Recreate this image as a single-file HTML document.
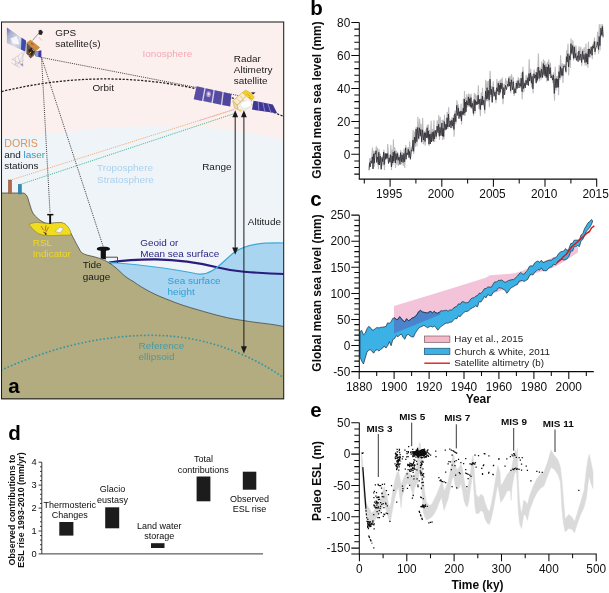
<!DOCTYPE html>
<html lang="en"><head><meta charset="utf-8"><title>Sea level figure</title>
<style>
html,body{margin:0;padding:0;background:#fff;}
body{width:609px;height:593px;overflow:hidden;}
svg{display:block;font-family:"Liberation Sans", sans-serif;}
.t{font-size:9.95px;fill:#1a1a1a;}
.tk{font-size:11.85px;fill:#101010;}
.bl{font-size:11.95px;font-weight:bold;fill:#0c0c0c;}
.pl{font-size:20.5px;font-weight:bold;fill:#000;}
.d{font-size:9px;fill:#0c0c0c;}
.ax{stroke:#0a0a0a;stroke-width:1.05;fill:none;}
</style></head><body>
<svg width="609" height="593" viewBox="0 0 609 593">
<rect width="609" height="593" fill="#fff"/>
<g id="panel-a">
<defs><clipPath id="ca"><rect x="1.5" y="22" width="282.2" height="376.9"/></clipPath>
<linearGradient id="gp" x1="0" y1="0" x2="1" y2="1"><stop offset="0" stop-color="#5563b8"/><stop offset="0.2" stop-color="#a9adcc"/><stop offset="0.55" stop-color="#dcdde9"/><stop offset="1" stop-color="#9a9fc4"/></linearGradient>
</defs>
<g clip-path="url(#ca)">
<rect x="1" y="21" width="284" height="378" fill="#fcf0ee"/>
<path d="M1,137.2 C30,135.8 55,133.3 79,130.5 C105,127.6 125,126.6 150,126.3 C185,125.5 215,127.5 248,133 C262,135.5 272,137.6 285,139.9 L285,399 L1,399 Z" fill="#eff4f8"/>
<path d="M108.8,262.5 C125,263.2 170,268 198,274 C212,276 222,262 234,252.5 C246,244 262,242.5 285,243 L285,330 L108.8,330 Z" fill="#a9d5f0"/>
<path d="M1,193 L23,193 C25.5,193.3 27,195.5 27.8,198 C29,202 30.2,206 31.4,209.6 C32.6,213 34,214.8 35.5,216.2 C37.5,218.2 39.5,220 41.3,221.1 C43,222.1 44.5,222.8 46.2,223.2 L48.5,223.4 L60,222.6 C64,222.8 66.5,225 68,228 C71,233 75,241.5 79.8,250 C81,253 84,254.6 90,255.8 C97,257.2 103,259.2 108.8,262.5 C114,265.8 119,270.6 123.6,275 C126.5,277.6 129.5,279.4 132.8,281.2 C145,290 156,295 165.7,298.8 C178,304 188,307 198.5,310 C212,314 222,316.6 231,318.5 C245,321 255,322.3 264,323.4 C272,324.3 278,325.3 285,326.8 L285,399 L1,399 Z" fill="#b2ac80" stroke="#3a3a32" stroke-width="0.7"/>
<path d="M29.2,224.4 C32,223 35,222.5 37.2,222.4 C41,222.6 45,223.6 48.7,223.6 C53,223.4 57,222.4 60.2,222.6 C63,222.8 65,223.6 66,224.7 C68.5,227 70,229.5 70.6,231.6 C71,233 71,234.4 70.6,235 C67,235.3 64,235.2 60.2,235.2 C56,235.6 52,235.8 48.7,235.6 C45,235.4 42,235 39.5,234 C36.5,232.6 34,230.5 32.6,228.7 C31,227 30,225.6 29.2,224.4 Z" fill="#f2dc1e" stroke="#7a7030" stroke-width="0.5"/>
<path d="M41,226 L43.5,230 M46,225.5 L45,231 M48.5,227 L46,232 M43,232 L47,233.5" stroke="#b07a28" stroke-width="1" fill="none"/>
<path d="M44.5,232 L47,234.6 L45,234.8 Z" fill="#222"/>
<path d="M55,231.5 L60,227 L63.5,228.4 L60.5,233 Z" fill="#f4f4ee" stroke="#9a9a90" stroke-width="0.5"/>
<path d="M108.8,262.5 C122,260.6 142,259.3 156,259.4 C175,259.6 198,262.5 218,267.5 C228,270 236,271.2 244,271.8 C258,272.8 270,273.6 285,274" fill="none" stroke="#2a1c7c" stroke-width="2.1"/>
<path d="M108.8,262.5 C125,263.2 170,268 198,274 C212,276 222,262 234,252.5 C246,244 262,242.5 285,243" fill="none" stroke="#3aa9d8" stroke-width="1.2"/>
<path d="M1.5,370 C50,348 100,335.3 152,335.3 C200,335.3 245,351 285,378.5" fill="none" stroke="#3a95a3" stroke-width="1.9" stroke-linecap="round" stroke-dasharray="0.01 3.7"/>
<path d="M1.5,91.6 Q143,57 285,117" fill="none" stroke="#222" stroke-width="1.3" stroke-dasharray="2.2 1.5"/>
<g fill="none" stroke="#303030" stroke-width="0.95" stroke-dasharray="0.95 1">
<path d="M41.5,57.5 L238,95.5"/>
<path d="M41.5,57.5 L50,212.5"/>
<path d="M41.5,57.5 L103.5,247.5"/>
</g>
<path d="M10,180.3 L234,109.5" fill="none" stroke="#eda468" stroke-width="0.95" stroke-dasharray="1 1"/>
<path d="M200,120.3 L234,109.5" fill="none" stroke="#e6a0cc" stroke-width="0.95" stroke-dasharray="1 1"/>
<path d="M19.8,184.6 L236,113" fill="none" stroke="#34ae8e" stroke-width="0.95" stroke-dasharray="1 1"/>
<rect x="8.3" y="180" width="3.4" height="13.2" fill="#b5694a" stroke="#8a4a32" stroke-width="0.4"/>
<rect x="18.2" y="184.4" width="3.3" height="9.6" fill="#2a8db8" stroke="#1e6a8a" stroke-width="0.4"/>
<rect x="47.2" y="213.9" width="6.2" height="1.5" fill="#111"/>
<rect x="49.2" y="214.5" width="1.9" height="9.3" fill="#111"/>
<path d="M105.5,257.2 L117.5,257.2 L117.5,263" fill="none" stroke="#383838" stroke-width="0.9"/>
<path d="M96.8,249 C96.8,247.4 99,246.8 103.4,246.8 C107.8,246.8 110,247.4 110,249 C110,250.2 108,250.6 105.9,250.8 L105.9,259.6 L100.7,258.6 L100.7,250.8 C98.6,250.6 96.8,250.2 96.8,249 Z" fill="#111"/>
<g stroke="#1a1a1a" stroke-width="1" fill="#1a1a1a">
<path d="M235.2,114 L235.2,251" fill="none"/>
<path d="M243.9,114 L243.9,350" fill="none"/>
<path d="M235.2,110.2 L232.3,117.2 L238.1,117.2 Z" stroke="none"/>
<path d="M243.9,110.2 L241,117.2 L246.8,117.2 Z" stroke="none"/>
<path d="M235.2,254.8 L232.2,247.6 L238.2,247.6 Z" stroke="none"/>
<path d="M243.9,353.4 L240.9,346.2 L246.9,346.2 Z" stroke="none"/>
</g>
<path d="M196.6,86.2 L231.4,94 L230.2,106.6 L193.7,99.2 Z" fill="#d9d0e6"/>
<path d="M196.6,86.2 L204.4,88 L201.9,100.9 L193.7,99.2 Z" fill="#574ea3"/>
<path d="M205.7,88.2 L213.5,90 L211.4,102.8 L203.3,101.1 Z" fill="#5a50a6"/>
<path d="M214.8,90.3 L222.5,92 L220.9,104.7 L212.8,103.1 Z" fill="#544aa2"/>
<path d="M223.8,92.3 L231.4,94 L230.2,106.6 L222.2,105 Z" fill="#4e449e"/>
<ellipse cx="208.6" cy="94.3" rx="2.2" ry="3" fill="#c9a8d8" opacity="0.85"/>
<ellipse cx="208.6" cy="94" rx="1" ry="1.3" fill="#f3e4f2"/>
<path d="M253.5,100.7 L272.8,104.4 L277.2,113.2 L252,109.6 Z" fill="#3f3795"/>
<path d="M258.2,101.6 L258.8,110.6 M262.9,102.5 L264.8,111.5 M267.7,103.4 L270.9,112.4" stroke="#9f97d6" stroke-width="0.8" fill="none"/>
<path d="M237.3,105.1 L242.1,100.8 L251.7,101.3 L250.1,106.7 L244.2,110.6 L237.8,109.5 Z" fill="#eceee8" stroke="#c9c6b4" stroke-width="0.4"/>
<ellipse cx="246.4" cy="104.3" rx="5.4" ry="3.1" transform="rotate(-14 246.4 104.3)" fill="#ffffff"/>
<path d="M233,100.8 L237.3,105.1 L237.8,109.5 L234.6,108.3 Z" fill="#e4dcc0" stroke="#d9a330" stroke-width="0.6"/>
<path d="M233,100.8 L242.6,92.3 L246.3,96 L237.3,105.1 Z" fill="#f4ecd2" stroke="#dba52e" stroke-width="0.7"/>
<path d="M236.2,98 L240.6,102 M239.2,95.2 L243.6,99" stroke="#e0ad3a" stroke-width="0.5" fill="none"/>
<path d="M242.6,92.3 L245.8,90.1 L251.1,93.3 L254.3,97.1 L251.7,100.6 L246.3,96 Z" fill="#f2d224" stroke="#d9a822" stroke-width="0.5"/>
<path d="M247,93.6 L250.4,96.6 M248.6,97.6 L251.4,98.4" stroke="#dc9a28" stroke-width="0.9" fill="none"/>
<path d="M251.1,92.3 L255.6,92.6 L253,94.6 Z" fill="#1c1c1c"/>
<path d="M232.6,102 L234,100.2 M238.8,110.4 L241.4,111.2" stroke="#f0d224" stroke-width="1.1" fill="none"/>
<path d="M6.9,27.4 L26.1,40.7 L25.2,51.6 L6.9,43.2 Z" fill="url(#gp)"/>
<path d="M10.5,38.5 L16.5,36 L19.5,44.5 L12.5,43.5 Z" fill="#fbfbff" opacity="0.85"/>
<path d="M21.5,37.6 L26.1,40.7 L25.2,51.6 L21,49.5 Z" fill="#3c4bb2"/>
<path d="M26.6,42.6 L30.6,39.7 L40,47.6 L35.6,51.6 Z" fill="#c98f3a"/>
<path d="M26.6,42.6 L35.6,51.6 L34.4,55 L30.6,58.6 L26.4,53.6 Z" fill="#6d5148"/>
<path d="M28,50 L31.5,47.5 L34.5,51 L31.5,56 Z" fill="#2f2620"/>
<path d="M29.5,53.5 L31.2,52 M32.4,49.4 L33.8,50.8 M27.8,55 L29,56" stroke="#e2c62e" stroke-width="1"/>
<path d="M35.6,51.6 L41.4,50.2 L41.4,57.8 L35.2,56 Z" fill="#3a3a9e"/>
<path d="M35.6,51.6 L38.5,50.9 L38.2,56.9 L35.2,56 Z" fill="#8f98c8"/>
<path d="M31,43.2 L33.2,44.4" stroke="#d23a3a" stroke-width="1.1"/>
<path d="M32.5,40.5 L39,32.9" stroke="#6a6a72" stroke-width="0.7" fill="none"/>
<path d="M38.6,30.4 L41,29.8 L43,32 L41.6,35 L38.8,34.4 Z" fill="#26222a"/>
<path d="M38,28.2 L40,29.6" stroke="#e8e8f0" stroke-width="1"/>
<path d="M39,37.3 L41.9,40.7" stroke="#e2a25a" stroke-width="0.6"/>
<g stroke="#b4b4c2" stroke-width="0.5" fill="none"><path d="M26.5,50 L11.5,60 M25,52 L17,66 M23,53 L22.6,67 M12,59 L24,66 M14,64.5 L23.5,60.5 M18,56 L21,66.5 M11,62.5 L20,68 M15,58 L16,66"/></g>
<circle cx="22" cy="64.6" r="1" fill="#7f86b8"/>
</g>
<rect x="1.5" y="22" width="282.2" height="376.9" fill="none" stroke="#1e1e1e" stroke-width="1.05"/>
<text x="55.2" y="36.3" class="t">GPS</text>
<text x="55.2" y="47.1" class="t">satellite(s)</text>
<text x="142.5" y="56.6" class="t" style="fill:#f3a9b6">Ionosphere</text>
<text x="92.4" y="91.2" class="t">Orbit</text>
<text x="233.8" y="61.7" class="t">Radar</text>
<text x="233.8" y="73.2" class="t">Altimetry</text>
<text x="233.8" y="84.4" class="t">satellite</text>
<text x="4.3" y="146.9" class="t" style="fill:#d9955a;font-size:10.6px">DORIS</text>
<text x="4.2" y="157.9" class="t">and <tspan style="fill:#2b8fcf">la</tspan><tspan style="fill:#2e9fb0">s</tspan><tspan style="fill:#38a88a">er</tspan></text>
<text x="4.2" y="169" class="t">stations</text>
<text x="97" y="171" class="t" style="fill:#a9d1ef">Troposphere</text>
<text x="97" y="183.1" class="t" style="fill:#a9d1ef">Stratosphere</text>
<text x="202.2" y="169.7" class="t">Range</text>
<text x="247.8" y="225" class="t">Altitude</text>
<text x="32.8" y="246.3" class="t" style="fill:#f0d822">RSL</text>
<text x="32.8" y="257.2" class="t" style="fill:#f0d822">Indicator</text>
<text x="82.7" y="268.4" class="t">Tide</text>
<text x="82.7" y="279.6" class="t">gauge</text>
<text x="140.2" y="246" class="t" style="fill:#2f2585">Geoid or</text>
<text x="140.2" y="257" class="t" style="fill:#2f2585">Mean sea surface</text>
<text x="167.6" y="283.6" class="t" style="fill:#2f9fd4">Sea surface</text>
<text x="167.6" y="295" class="t" style="fill:#2f9fd4">height</text>
<text x="138.5" y="348.7" class="t" style="fill:#4a9aa2">Reference</text>
<text x="138.5" y="359.6" class="t" style="fill:#4a9aa2">ellipsoid</text>
<text x="8.2" y="393.3" class="pl">a</text>
</g>
<g id="panel-b">
<text x="310.3" y="14.6" class="pl">b</text>
<path d="M369.1,167.9 L369.8,158.4 L370.4,161.8 L371.2,158.8 L371.7,156.9 L372.5,147.8 L373.2,167.8 L373.7,151 L374.5,166.1 L375,151.5 L375.7,153.1 L376.3,146.6 L376.8,158.7 L377.5,148.4 L378.4,168.7 L379,149.5 L379.6,162.1 L380.4,154.2 L381.4,168.2 L382.2,156.8 L382.9,165.3 L383.9,150 L384.4,169.7 L385.3,153.7 L386,153.6 L386.5,157 L387.1,158.5 L387.7,144.3 L388.7,157.2 L389.2,155.6 L390,162.2 L390.9,145.2 L391.5,169.5 L392.3,150.1 L392.8,165 L393.4,139.9 L394,162.5 L394.8,147.6 L395.5,167.5 L396.2,150.8 L397,164.2 L397.7,152.2 L398.4,165.4 L399.3,155.5 L400.1,160.1 L400.7,150.3 L401.5,163.6 L402.3,152.3 L403.2,165.4 L404.1,148.9 L404.7,167.4 L405.7,145.4 L406.3,155.3 L407,147.7 L407.9,154.7 L408.4,147.6 L409.2,154.7 L409.7,141.9 L410.5,157.5 L411.4,147.3 L412.2,151.1 L413.1,130.2 L413.8,153.7 L414.6,131.8 L415.4,146.3 L416.2,127.2 L417,146 L417.9,117.2 L418.9,139.4 L419.6,119.2 L420.4,136.3 L420.9,124.4 L421.8,142.9 L422.6,118.3 L423.6,143.8 L424.5,131.5 L425.2,145.2 L425.9,129.8 L426.7,135 L427.2,125.1 L427.9,139 L428.5,124.8 L429.1,145.6 L429.6,130.2 L430.5,139.8 L431.1,121.1 L431.7,138.3 L432.4,129.4 L433.3,141.3 L433.9,120.5 L434.6,141.7 L435.4,130.7 L436.3,138.3 L437.2,120.5 L438.1,134 L438.8,115.3 L439.5,139.5 L440.2,117.3 L441.1,134.2 L442.1,120.3 L442.7,139.6 L443.3,120.2 L443.9,139 L444.5,115 L445.2,130.5 L446,126 L446.7,128.6 L447.2,112.3 L447.9,128.6 L448.6,107.6 L449.3,122 L450.3,119.9 L451.2,125.6 L451.9,117.7 L452.7,127.5 L453.6,115.4 L454.1,136.3 L455,111 L455.9,123.6 L456.9,100.6 L457.8,109 L458.5,104.9 L459.2,116 L459.7,111.3 L460.5,118.3 L461.1,104 L461.6,124 L462.2,111.9 L462.8,114 L463.4,99 L464,115.3 L464.5,91.3 L465,115.4 L465.6,97.9 L466.3,107.3 L466.8,94.5 L467.7,106.6 L468.5,93.9 L469.1,106 L469.7,94.9 L470.4,107.6 L471.1,94 L471.7,108.4 L472.6,101.3 L473.6,115.5 L474.3,93.3 L475.1,113 L475.6,94.4 L476.1,105 L476.8,96 L477.5,104 L478.4,85.7 L478.9,108.3 L479.5,99.5 L480.4,115.7 L481.2,92.9 L481.8,104.6 L482.5,88.2 L483.1,105.1 L483.8,97.5 L484.8,113.2 L485.7,80.2 L486.6,101 L487.2,81.5 L487.9,100.8 L488.5,81.2 L489.4,106.7 L490.1,71.2 L491,96.6 L491.7,86.6 L492.3,102.2 L493.2,81.6 L494.2,93.8 L495.1,90.4 L496,102.8 L496.9,79.3 L497.8,93.8 L498.4,81.5 L499.2,91.5 L499.9,80.6 L500.4,93.2 L500.9,79.6 L501.5,88.9 L502.2,77.9 L503,103.8 L504,84.1 L504.7,90.2 L505.7,78.6 L506.7,84 L507.6,81.2 L508.3,82.8 L508.9,76.8 L509.6,85.8 L510.2,76.1 L510.8,92.7 L511.6,74.5 L512.5,84 L513.4,77.5 L514.2,95.5 L515,87.7 L515.9,89.5 L516.4,81 L517.3,88.7 L518.2,77.5 L519.1,82.9 L520,79.2 L520.7,87.7 L521.3,73.1 L522.2,99 L522.9,67 L523.8,92 L524.8,81.7 L525.5,85.5 L526.2,75.3 L527.1,82.6 L528,75.9 L528.6,79.7 L529.2,59.5 L529.7,81 L530.7,69.2 L531.6,87 L532.2,74.4 L533.1,93 L534.1,69.8 L534.9,73.5 L535.6,72.4 L536.3,83.1 L536.9,68.9 L537.4,81.4 L538.4,53.8 L539.2,80.8 L540,67.5 L541,79.7 L541.7,62 L542.6,76.7 L543.5,59.7 L544.1,75.7 L544.7,61.2 L545.4,77.7 L546,64 L546.8,81.2 L547.4,62.4 L548.1,80.5 L548.7,59.9 L549.7,75.3 L550.3,63 L551.1,73.9 L551.9,74.6 L552.8,82.5 L553.5,72.9 L554.5,100.1 L555.2,67 L556,90.1 L556.8,76.3 L557.3,80.6 L558,76 L558.6,94.6 L559.1,65.4 L560,79.5 L560.6,55.7 L561.3,76.8 L562.2,63.6 L563,82.5 L563.6,64.5 L564.4,65.7 L565.2,64.4 L566,73 L566.6,50.7 L567.4,55.4 L568,44.1 L568.6,74.9 L569.5,54.7 L570.3,67.3 L571.1,38.7 L571.9,54.6 L572.9,40.5 L573.6,59.9 L574.4,46.2 L575.2,59.2 L575.9,45.6 L576.8,54.2 L577.5,52.5 L578.3,58.1 L579,46.5 L580,53.8 L580.8,47 L581.8,65.5 L582.7,49.3 L583.4,54.9 L584.2,47.6 L585.1,65.1 L586,44.1 L586.6,65 L587.2,52.3 L587.9,67.3 L588.4,42 L589.1,57.8 L589.6,51.3 L590.4,56.9 L591.3,48.9 L592.3,58.6 L592.8,44.4 L593.7,48.8 L594.5,37.8 L595.1,54.3 L596,41.8 L597,44.9 L597.6,32 L598.6,53.2 L599.3,24.6 L600.1,49.9 L601,24.5 L602,35.8 L602.5,24.5 L603.3,35.7" fill="none" stroke="#bcbcbe" stroke-width="1.15" stroke-linejoin="round"/>
<path d="M369,170.2 L369.7,162.7 L370.2,166.9 L371.1,160.8 L371.6,163.2 L372.4,156.8 L373,169 L373.6,153.9 L374.3,163.2 L374.9,153.3 L375.6,154.1 L376.1,150.7 L376.6,162.4 L377.4,156.9 L378.3,164.5 L378.8,152.3 L379.4,165 L380.3,156.1 L381.2,169.4 L382,157.6 L382.7,161.6 L383.7,152.1 L384.2,164.5 L385.2,153.4 L385.8,159.3 L386.4,153.7 L386.9,158.2 L387.6,153.6 L388.5,163.5 L389.1,157.8 L389.9,162.1 L390.7,154.6 L391.4,166.9 L392.2,156 L392.7,163.1 L393.2,152.2 L393.8,161.2 L394.7,151.2 L395.4,163 L396,153.6 L396.8,159.6 L397.6,153.4 L398.2,160.4 L399.1,157 L400,164.5 L400.6,152.7 L401.4,161.8 L402.1,154.8 L403.1,162.5 L403.9,153.4 L404.6,161.7 L405.6,147.9 L406.1,159.3 L406.8,152.9 L407.7,154.6 L408.3,149.3 L409,157.6 L409.5,151.4 L410.4,159.3 L411.3,150 L412.1,150.7 L413,140 L413.6,151.3 L414.5,137.1 L415.3,143.2 L416.1,128.9 L416.8,141.6 L417.7,127.4 L418.7,138.5 L419.4,127.8 L420.3,135.8 L420.8,129.5 L421.7,141.9 L422.5,129.8 L423.5,140 L424.4,132.7 L425,141.5 L425.7,132.7 L426.6,137.8 L427.1,127.7 L427.8,137.7 L428.4,130.9 L428.9,144.2 L429.5,134.4 L430.3,144 L430.9,133.8 L431.5,142 L432.2,132.2 L433.2,141.2 L433.7,131.5 L434.4,139 L435.2,130.2 L436.2,136.5 L437.1,126.1 L438,132.5 L438.6,124.3 L439.3,136.3 L440,127.3 L441,135.7 L441.9,123.1 L442.5,136.1 L443.1,128.3 L443.7,136.6 L444.3,121.6 L445.1,129.8 L445.9,124 L446.5,129.3 L447,117.8 L447.7,127.1 L448.4,114 L449.2,127 L450.2,121 L451,128.1 L451.8,120.2 L452.6,125.9 L453.4,117.9 L453.9,129.5 L454.9,113.7 L455.8,121.7 L456.7,105.4 L457.6,115.5 L458.3,107.9 L459,118.7 L459.6,111.8 L460.4,116.4 L460.9,110.9 L461.4,120.9 L462,111.5 L462.6,114.6 L463.3,108.1 L463.8,114.5 L464.3,99 L464.9,112.9 L465.5,102 L466.1,111.8 L466.6,100.7 L467.6,104.9 L468.4,96.9 L469,105.4 L469.6,98.7 L470.3,106.5 L470.9,97.6 L471.5,107.4 L472.4,103.3 L473.4,113.6 L474.2,99.4 L474.9,111 L475.4,100.5 L476,104.8 L476.7,101.8 L477.3,104.5 L478.2,95.2 L478.8,103.9 L479.3,99.3 L480.3,109.6 L481,98.8 L481.6,105.1 L482.4,96 L482.9,104.8 L483.7,100.2 L484.7,109.7 L485.6,91.1 L486.4,99.3 L487.1,87.7 L487.8,98.7 L488.3,90.4 L489.2,100.1 L490,79.2 L490.9,94.7 L491.5,89.4 L492.2,102.3 L493.1,87 L494.1,96.3 L495,91.9 L495.9,99.8 L496.8,87.7 L497.7,91.3 L498.3,83.1 L499,95.1 L499.7,84.9 L500.2,92.3 L500.7,82.9 L501.4,88.7 L502,83.2 L502.9,98.5 L503.8,87.5 L504.6,94.8 L505.5,85.2 L506.5,89.6 L507.5,83.9 L508.2,86.5 L508.8,78.4 L509.4,86 L510,82.2 L510.6,90.7 L511.4,79.8 L512.4,89.9 L513.3,81.6 L514,93.5 L514.9,88.7 L515.8,93.1 L516.3,83 L517.1,88.4 L518.1,80.6 L519,88 L519.8,83.2 L520.6,86.3 L521.2,78.1 L522.1,91.7 L522.7,71.8 L523.6,88.6 L524.6,83.3 L525.3,87.9 L526,80.2 L527,84.9 L527.9,77.8 L528.4,85.6 L529,73.5 L529.6,81 L530.5,72.9 L531.4,83.3 L532,76.3 L532.9,88.8 L533.9,73.7 L534.7,78.2 L535.4,74.8 L536.2,82.9 L536.8,72.3 L537.3,80.3 L538.2,67 L539.1,78.5 L539.8,70.6 L540.8,77.5 L541.5,69.2 L542.5,77.7 L543.4,63.6 L544,74.5 L544.6,65.3 L545.2,76.2 L545.9,66.8 L546.7,77.5 L547.3,67 L548,80.5 L548.6,64.6 L549.5,73.7 L550.2,67.6 L550.9,78 L551.7,75.7 L552.7,80.1 L553.4,74.9 L554.3,93.5 L555.1,78.7 L555.9,87.7 L556.6,78.5 L557.1,87.5 L557.8,79 L558.4,87.3 L558.9,71.6 L559.8,77.9 L560.4,66.6 L561.2,75.4 L562,68.4 L562.8,75.7 L563.5,66.3 L564.2,66.6 L565,65.8 L565.9,71.6 L566.4,56.7 L567.2,62.1 L567.9,53.7 L568.5,67 L569.4,55.9 L570.1,59.9 L570.9,43.7 L571.8,53.5 L572.7,45.5 L573.5,58.4 L574.3,47 L575,57.9 L575.8,53.5 L576.6,60.4 L577.4,55.6 L578.1,61.7 L578.9,51 L579.8,60.3 L580.7,54.1 L581.6,62.4 L582.6,51.1 L583.2,59.6 L584,54.5 L585,62.7 L585.9,53.4 L586.5,62.1 L587,54.1 L587.7,64 L588.3,49 L588.9,56.8 L589.4,48.9 L590.3,53.8 L591.2,46.7 L592.1,55.2 L592.7,45.9 L593.5,48.1 L594.4,41.5 L594.9,51.8 L595.9,47.6 L596.9,45.7 L597.5,41.9 L598.5,49.4 L599.2,36.5 L599.9,45.7 L600.9,28.2 L601.8,35.3 L602.4,26.5 L603.1,37.4" fill="none" stroke="#2c2a30" stroke-width="0.8" stroke-linejoin="round"/>
<path class="ax" d="M359.3,22.5 L359.3,179.1 M359.3,154.3 h-8 M359.3,121.4 h-8 M359.3,88.4 h-8 M359.3,55.5 h-8 M359.3,22.5 h-8 M359.3,174.1 h-5 M359.3,167.5 h-5 M359.3,160.9 h-5 M359.3,147.7 h-5 M359.3,141.1 h-5 M359.3,134.5 h-5 M359.3,127.9 h-5 M359.3,114.8 h-5 M359.3,108.2 h-5 M359.3,101.6 h-5 M359.3,95 h-5 M359.3,81.8 h-5 M359.3,75.2 h-5 M359.3,68.6 h-5 M359.3,62 h-5 M359.3,48.9 h-5 M359.3,42.3 h-5 M359.3,35.7 h-5 M359.3,29.1 h-5"/>
<path class="ax" d="M358.8,179.1 L597.2,179.1 M390.1,179.1 v7.6 M441.8,179.1 v7.6 M493.4,179.1 v7.6 M545,179.1 v7.6 M596.7,179.1 v7.6 M364.3,179.1 v4.5 M415.9,179.1 v4.5 M467.6,179.1 v4.5 M519.2,179.1 v4.5 M570.9,179.1 v4.5"/>
<text x="350.3" y="158.5" class="tk" text-anchor="end">0</text>
<text x="350.3" y="125.6" class="tk" text-anchor="end">20</text>
<text x="350.3" y="92.6" class="tk" text-anchor="end">40</text>
<text x="350.3" y="59.7" class="tk" text-anchor="end">60</text>
<text x="350.3" y="26.7" class="tk" text-anchor="end">80</text>
<text x="389.2" y="198.1" class="tk" text-anchor="middle">1995</text>
<text x="440.9" y="198.1" class="tk" text-anchor="middle">2000</text>
<text x="492.5" y="198.1" class="tk" text-anchor="middle">2005</text>
<text x="544.1" y="198.1" class="tk" text-anchor="middle">2010</text>
<text x="608.8" y="198.1" class="tk" text-anchor="end">2015</text>
<text class="bl" text-anchor="middle" transform="translate(320.8,100) rotate(-90)">Global mean sea level (mm)</text>
</g>
<g id="panel-c">
<text x="310.2" y="206.1" class="pl">c</text>
<path d="M394,306 L440,292 L485,278 L490,275.2 L500,274.6 L514.7,273.3 L522,271 L530,267.5 L540,262.5 L552,258 L562,253.5 L570,250 L578,246.5 L578,252.5 L568,259 L560,264 L554,267.3 L545,270.5 L535.7,273 L525,279.5 L515,286 L500,291 L480,298.5 L460,306.3 L440.4,314.4 L394,333.6 Z" fill="#f3c3da"/>
<path d="M360,331.5 L361.7,330.4 L363.5,334.8 L365.2,333.3 L366.9,328.9 L368.6,326.4 L370.4,327.5 L372.1,330.1 L373.8,329.8 L375.5,328.4 L377.3,327.4 L379,328 L380.7,327.3 L382.5,327.2 L384.2,326.8 L385.9,326.5 L387.6,322.9 L389.4,323.2 L391.1,321.8 L392.8,318.3 L394.6,317.9 L396.3,319.5 L398,319.3 L399.7,316.7 L401.5,318.8 L403.2,321 L404.9,321.7 L406.6,318.7 L408.4,320.8 L410.1,319.9 L411.8,318.2 L413.6,317.6 L415.3,316.6 L417,314.5 L418.7,311.7 L420.5,310.4 L422.2,311.9 L423.9,312.3 L425.6,312.7 L427.4,313.1 L429.1,311.9 L430.8,311.6 L432.6,312.9 L434.3,311.3 L436,313 L437.7,313.2 L439.5,312.2 L441.2,310.6 L442.9,311 L444.6,310.4 L446.4,310.3 L448.1,311.2 L449.8,309.9 L451.6,310.1 L453.3,308.2 L455,307.1 L456.7,306.4 L458.5,303.8 L460.2,304.3 L461.9,301.8 L463.7,301.8 L465.4,302.7 L467.1,302.8 L468.8,302.1 L470.6,299.2 L472.3,297.9 L474,297.9 L475.7,296.1 L477.5,295.6 L479.2,293.1 L480.9,293.4 L482.7,291.3 L484.4,288.7 L486.1,288.5 L487.8,287 L489.6,287 L491.3,287.3 L493,284.3 L494.7,281.9 L496.5,282.1 L498.2,280.4 L499.9,280.4 L501.7,280 L503.4,281.3 L505.1,282.4 L506.8,281.6 L508.6,280.4 L510.3,280.1 L512,279.6 L513.7,279.6 L515.5,277.8 L517.2,276.4 L518.9,274.1 L520.7,272.5 L522.4,273.9 L524.1,274.4 L525.8,271.9 L527.6,270.2 L529.3,266.4 L531,265.8 L532.8,266.1 L534.5,263.1 L536.2,261.8 L537.9,261 L539.7,262.3 L541.4,260.2 L543.1,262.6 L544.8,262 L546.6,261.1 L548.3,260.6 L550,260.2 L551.8,260.2 L553.5,258 L555.2,258.1 L556.9,256.4 L558.7,253.6 L560.4,251.9 L562.1,251.5 L563.8,251.1 L565.6,248.6 L567.3,250.6 L569,248.4 L570.8,243.5 L572.5,243.3 L574.2,240.2 L575.9,240.2 L577.7,240.1 L579.4,239.8 L581.1,234.9 L582.8,233.7 L584.6,228.6 L586.3,225.8 L588,222.9 L589.8,221.4 L591.5,219.5 L592.7,221 L592.7,221 L591.5,224.3 L589.8,227.3 L588,229.5 L586.3,231.3 L584.6,235.4 L582.8,239.5 L581.1,240.6 L579.4,246.6 L577.7,245.5 L575.9,246.7 L574.2,246.8 L572.5,251.1 L570.8,251 L569,256.2 L567.3,258.6 L565.6,259.6 L563.8,260 L562.1,259.5 L560.4,259.5 L558.7,260.5 L556.9,263.6 L555.2,264.8 L553.5,264.1 L551.8,266.8 L550,267.3 L548.3,268.6 L546.6,270.8 L544.8,270.7 L543.1,270.7 L541.4,267.8 L539.7,270.1 L537.9,269.6 L536.2,271.3 L534.5,272.4 L532.8,275.1 L531,273.8 L529.3,276 L527.6,279.5 L525.8,280.5 L524.1,281.5 L522.4,280.6 L520.7,280.8 L518.9,281.5 L517.2,284.7 L515.5,285.2 L513.7,286.5 L512,287.3 L510.3,288.6 L508.6,291.2 L506.8,293.3 L505.1,290.3 L503.4,289.3 L501.7,288.3 L499.9,287.9 L498.2,288 L496.5,290.8 L494.7,291 L493,292.7 L491.3,295.7 L489.6,295.5 L487.8,294.5 L486.1,297.7 L484.4,296.5 L482.7,299.6 L480.9,302.1 L479.2,301.6 L477.5,306.8 L475.7,305.9 L474,307.1 L472.3,307.8 L470.6,308.9 L468.8,310.6 L467.1,311.4 L465.4,311.5 L463.7,312.7 L461.9,314.4 L460.2,316.7 L458.5,315.8 L456.7,318.9 L455,318.5 L453.3,320.3 L451.6,322.2 L449.8,322.2 L448.1,323.1 L446.4,323.1 L444.6,323.9 L442.9,325.3 L441.2,326.3 L439.5,328 L437.7,330.2 L436,327.5 L434.3,326 L432.6,327.1 L430.8,326.2 L429.1,326.9 L427.4,327.8 L425.6,326.4 L423.9,325.4 L422.2,326.3 L420.5,327 L418.7,328.1 L417,330.5 L415.3,333.1 L413.6,336.9 L411.8,336.9 L410.1,335.9 L408.4,334.5 L406.6,335 L404.9,339.2 L403.2,337.6 L401.5,334.2 L399.7,334.9 L398,336.8 L396.3,335.6 L394.6,338.5 L392.8,339.6 L391.1,345.7 L389.4,341.7 L387.6,345.7 L385.9,348.1 L384.2,346 L382.5,348.2 L380.7,349.4 L379,351.1 L377.3,349.8 L375.5,350.2 L373.8,353.1 L372.1,351.7 L370.4,349.6 L368.6,350.2 L366.9,352.4 L365.2,358.1 L363.5,364 L361.7,361.1 L360,357 Z" fill="#3cb1e6" stroke="#14283c" stroke-width="0.7" stroke-linejoin="round"/>
<path d="M394,318 L394.6,317.9 L396.3,319.5 L398,319.3 L399.7,316.7 L401.5,318.8 L403.2,321 L404.9,321.7 L406.6,318.7 L408.4,320.8 L410.1,319.9 L411.8,318.2 L413.6,317.6 L415.3,316.6 L417,314.5 L418.7,311.7 L420.5,310.4 L422.2,311.9 L423.9,312.3 L425.6,312.7 L427.4,313.1 L429.1,311.9 L430.8,311.6 L432.6,312.9 L434.3,311.3 L436,313 L437.7,313.2 L439.5,312.2 L440.4,311.4 L440.4,314.4 L394,333.6 Z" fill="#4b83cc"/>
<path d="M394,318 L394.6,317.9 L396.3,319.5 L398,319.3 L399.7,316.7 L401.5,318.8 L403.2,321 L404.9,321.7 L406.6,318.7 L408.4,320.8 L410.1,319.9 L411.8,318.2 L413.6,317.6 L415.3,316.6 L417,314.5 L418.7,311.7 L420.5,310.4 L422.2,311.9 L423.9,312.3 L425.6,312.7 L427.4,313.1 L429.1,311.9 L430.8,311.6 L432.6,312.9 L434.3,311.3 L436,313 L437.7,313.2 L439.5,312.2 L440.4,311.4" fill="none" stroke="#14283c" stroke-width="0.7" stroke-linejoin="round"/>
<path d="M556.7,263 L560,260.5 L563,257 L566,254.5 L569,250.5 L572,246.5 L575,244 L578,241.5 L581,238.5 L584,236 L587,233 L589.5,231.5 L591.5,228 L594.3,225.8" fill="none" stroke="#d01a1a" stroke-width="1.5" stroke-linejoin="round"/>
<path class="ax" d="M359.3,215.2 L359.3,371.6 M359.3,371.6 h-8 M359.3,345.5 h-8 M359.3,319.4 h-8 M359.3,293.4 h-8 M359.3,267.3 h-8 M359.3,241.2 h-8 M359.3,215.1 h-8 M359.3,366.4 h-5 M359.3,361.1 h-5 M359.3,355.9 h-5 M359.3,350.7 h-5 M359.3,340.3 h-5 M359.3,335.1 h-5 M359.3,329.9 h-5 M359.3,324.6 h-5 M359.3,314.2 h-5 M359.3,309 h-5 M359.3,303.8 h-5 M359.3,298.6 h-5 M359.3,288.1 h-5 M359.3,282.9 h-5 M359.3,277.7 h-5 M359.3,272.5 h-5 M359.3,262.1 h-5 M359.3,256.8 h-5 M359.3,251.6 h-5 M359.3,246.4 h-5 M359.3,236 h-5 M359.3,230.8 h-5 M359.3,225.6 h-5 M359.3,220.3 h-5"/>
<path class="ax" d="M358.8,371.6 L593.8,371.6 M359.2,371.6 v7.3 M394.1,371.6 v7.3 M429.1,371.6 v7.3 M464,371.6 v7.3 M498.9,371.6 v7.3 M533.9,371.6 v7.3 M568.8,371.6 v7.3 M376.7,371.6 v4.3 M411.6,371.6 v4.3 M446.5,371.6 v4.3 M481.5,371.6 v4.3 M516.4,371.6 v4.3 M551.3,371.6 v4.3 M586.3,371.6 v4.3"/>
<text x="350.3" y="375.8" class="tk" text-anchor="end">-50</text>
<text x="350.3" y="349.7" class="tk" text-anchor="end">0</text>
<text x="350.3" y="323.6" class="tk" text-anchor="end">50</text>
<text x="350.3" y="297.6" class="tk" text-anchor="end">100</text>
<text x="350.3" y="271.5" class="tk" text-anchor="end">150</text>
<text x="350.3" y="245.4" class="tk" text-anchor="end">200</text>
<text x="350.3" y="219.3" class="tk" text-anchor="end">250</text>
<text x="359.2" y="390.6" class="tk" text-anchor="middle">1880</text>
<text x="394.1" y="390.6" class="tk" text-anchor="middle">1900</text>
<text x="429.1" y="390.6" class="tk" text-anchor="middle">1920</text>
<text x="464" y="390.6" class="tk" text-anchor="middle">1940</text>
<text x="498.9" y="390.6" class="tk" text-anchor="middle">1960</text>
<text x="533.9" y="390.6" class="tk" text-anchor="middle">1980</text>
<text x="568.8" y="390.6" class="tk" text-anchor="middle">2000</text>
<text class="bl" text-anchor="middle" transform="translate(320.8,293) rotate(-90)">Global mean sea level (mm)</text>
<text x="478.3" y="403.4" class="bl" text-anchor="middle">Year</text>
<rect x="424.3" y="336" width="25.6" height="6.4" fill="#f3b9c8" stroke="#6a4a52" stroke-width="0.6"/>
<rect x="424.3" y="348.2" width="25.6" height="6.4" fill="#3cb1e6" stroke="#1c3c58" stroke-width="0.6"/>
<path d="M424.3,363.2 L450,363.2" stroke="#d8201c" stroke-width="1.4"/>
<text x="454.3" y="342.1" class="t" style="font-size:9.85px">Hay et al., 2015</text>
<text x="454.3" y="354.5" class="t" style="font-size:9.85px">Church &amp; White, 2011</text>
<text x="454.3" y="365.9" class="t" style="font-size:9.85px">Satellite altimetry (b)</text>
</g>
<g id="panel-e">
<text x="310.2" y="416.6" class="pl">e</text>
<path d="M361.4,452.6 L362.4,459.4 L363.7,474.9 L365.1,492.4 L366.2,502 L367.6,505.9 L369.5,508.8 L371.5,512.7 L373.4,511.7 L375.4,507.9 L377.3,504 L379.2,502 L381.2,498.2 L382.7,491.4 L384.1,486.5 L385.6,491.4 L387,496.2 L388.4,504 L389.9,507.9 L391.1,502 L392.8,490.4 L394.8,480.7 L396.7,473 L398.6,471 L400,478.8 L401.1,484.6 L402.1,481.7 L403.5,478.8 L405.4,473.9 L407.4,471 L410.3,473.9 L412.2,476.8 L413.2,478.8 L414.3,475.9 L416.1,469.1 L418,457.5 L419.2,442.9 L420.3,443.3 L421.6,459 L423.2,479.9 L424.8,492.7 L426.4,502.3 L429.6,505.5 L432,503.9 L434.4,499.1 L436.8,494.3 L439.2,487.9 L441.6,481.5 L442.9,484.7 L444,491.1 L445.7,487.9 L448.1,481.5 L449.7,473.5 L451.3,465.5 L452.9,454.2 L454,455.8 L455.3,465.5 L457.2,470.3 L459.3,467.1 L460.9,463.9 L462.5,468.7 L464.1,479.9 L465.7,487.9 L467.3,489.5 L468.9,481.5 L470.5,471.9 L472.1,459 L472.9,455.8 L473.7,462.3 L474.8,479.9 L476.1,494.3 L478.5,497.5 L480.9,494.3 L483.3,495.9 L484.9,502.3 L487.3,508.7 L489.3,512 L491.3,503.9 L493.7,491.1 L496.2,475.1 L497.8,465.5 L500,471.9 L500.7,486.1 L503.8,481.3 L507.3,474.3 L510.4,470.7 L511.1,470.7 L511.8,467.2 L514.4,453 L515.8,450.2 L516.7,453 L517.5,448.3 L518.2,479 L519.6,502.6 L521.5,514.4 L523.8,500.2 L525.7,501.4 L527.4,504.9 L529.7,495.5 L533.3,486.1 L536.8,479 L540.3,474.3 L543.9,471.9 L547.4,462.5 L551,450.2 L554.5,455.4 L558,460.1 L560.4,467.2 L562,481.3 L563.5,500.2 L565.1,519.1 L568.7,514.4 L571.5,516.7 L574.6,521.5 L576.9,514.4 L580.5,502.6 L584,490.8 L586.4,469.5 L588,458.9 L589.2,454.2 L591.1,462.5 L593,471.9 L593,488.4 L591.1,483.7 L589.2,476.6 L588,483.7 L586.4,497.9 L584,507.3 L580.5,514.8 L576.9,525 L574.6,532.8 L571.5,529 L568.7,528.5 L565.1,532.1 L563.5,523.8 L562,509.7 L560.4,481.8 L558,474.7 L554.5,469.5 L551,467.2 L547.4,476.6 L543.9,486.1 L540.3,488.4 L536.8,493.1 L533.3,500.2 L529.7,509.7 L527.4,520.3 L525.7,515.6 L523.8,514.4 L521.5,528.5 L519.6,523.8 L518.2,509.7 L517.5,490.8 L516.7,474.3 L515.8,470.7 L514.4,474.3 L511.8,488.4 L511.1,500.2 L510.4,490.8 L507.3,490.8 L503.8,497.9 L500.7,502.6 L500,497.5 L497.8,484.7 L496.2,492.7 L493.7,507.1 L491.3,518.4 L489.3,524.5 L487.3,523.2 L484.9,518.4 L483.3,512 L480.9,510.4 L478.5,513.6 L476.1,513.6 L474.8,505.5 L473.7,487.9 L472.9,473.5 L472.1,478.3 L470.5,487.9 L468.9,500.7 L467.3,507.1 L465.7,505.5 L464.1,500.7 L462.5,491.1 L460.9,483.1 L459.3,487.9 L457.2,489.5 L455.3,486.3 L454,478.3 L452.9,476.7 L451.3,483.1 L449.7,491.1 L448.1,499.1 L445.7,505.5 L444,510.4 L442.9,503.9 L441.6,497.5 L439.2,502.3 L436.8,508.7 L434.4,513.6 L432,516.8 L429.6,518.4 L426.4,520 L424.8,516.8 L423.2,512 L421.6,487.9 L420.3,467.1 L419.2,473 L418,481.7 L416.1,485 L414.3,488.5 L413.2,498.2 L412.2,492.4 L410.3,486.1 L407.4,483 L405.4,486.5 L403.5,492.4 L402.1,496.2 L401.1,507.9 L400,498.2 L398.6,487.5 L396.7,490.8 L394.8,498.2 L392.8,507.9 L391.1,517.6 L389.9,522.4 L388.4,517.6 L387,512.7 L385.6,507.9 L384.1,504 L382.7,506.9 L381.2,510.8 L379.2,513.7 L377.3,516.6 L375.4,519.5 L373.4,523.4 L371.5,526.3 L369.5,525.3 L367.6,521.4 L366.2,515.6 L365.1,507.9 L363.7,496.2 L362.4,478.8 L361.4,461.3 Z" fill="#dadada" stroke="#dadada" stroke-width="0.5" stroke-linejoin="round"/>
<path d="M361.6,452.6h1.25v1.25h-1.25zM362.4,452.3h1.25v1.25h-1.25zM361.7,452.7h1.25v1.25h-1.25zM369.2,526.1h1.25v1.25h-1.25zM367.6,521h1.25v1.25h-1.25zM369.4,524.8h1.25v1.25h-1.25zM370.2,525.8h1.25v1.25h-1.25zM368.7,523.2h1.25v1.25h-1.25zM371.2,523.1h1.25v1.25h-1.25zM368,521.3h1.25v1.25h-1.25zM368.8,524.1h1.25v1.25h-1.25zM368.4,523.6h1.25v1.25h-1.25zM369,525.2h1.25v1.25h-1.25zM369.8,524.2h1.25v1.25h-1.25zM367,525.2h1.25v1.25h-1.25zM367.4,523.4h1.25v1.25h-1.25zM367.3,523.8h1.25v1.25h-1.25zM368,524.2h1.25v1.25h-1.25zM371.9,523.6h1.25v1.25h-1.25zM369.6,520.9h1.25v1.25h-1.25zM368.5,525.2h1.25v1.25h-1.25zM368.7,524.5h1.25v1.25h-1.25zM368.8,521.6h1.25v1.25h-1.25zM369.3,522h1.25v1.25h-1.25zM370.6,522.7h1.25v1.25h-1.25zM366.4,520.8h1.25v1.25h-1.25zM373.1,524.3h1.25v1.25h-1.25zM373.6,523.3h1.25v1.25h-1.25zM367,526.5h1.25v1.25h-1.25zM372.2,521.6h1.25v1.25h-1.25zM367.1,522.4h1.25v1.25h-1.25zM373.5,528.2h1.25v1.25h-1.25zM367.3,521.3h1.25v1.25h-1.25zM367.2,518.7h1.25v1.25h-1.25zM372.3,520.3h1.25v1.25h-1.25zM370.5,524h1.25v1.25h-1.25zM367.8,527.9h1.25v1.25h-1.25zM367.4,526.7h1.25v1.25h-1.25zM367.3,523.6h1.25v1.25h-1.25zM376.4,502.4h1.25v1.25h-1.25zM378.9,498.8h1.25v1.25h-1.25zM375,506.4h1.25v1.25h-1.25zM376.5,503.1h1.25v1.25h-1.25zM377.5,496.2h1.25v1.25h-1.25zM379.9,505.8h1.25v1.25h-1.25zM376.4,502.4h1.25v1.25h-1.25zM376.3,497h1.25v1.25h-1.25zM375.9,501.1h1.25v1.25h-1.25zM377.8,502.2h1.25v1.25h-1.25zM376.2,504.4h1.25v1.25h-1.25zM374.9,502.5h1.25v1.25h-1.25zM377.8,498.9h1.25v1.25h-1.25zM373.3,496.9h1.25v1.25h-1.25zM376.5,501.6h1.25v1.25h-1.25zM378.5,496.6h1.25v1.25h-1.25zM376.1,502h1.25v1.25h-1.25zM375.9,492.1h1.25v1.25h-1.25zM377.4,507.5h1.25v1.25h-1.25zM377.7,496.9h1.25v1.25h-1.25zM375.5,500.6h1.25v1.25h-1.25zM380,501.9h1.25v1.25h-1.25zM376.2,506.9h1.25v1.25h-1.25zM376.5,511h1.25v1.25h-1.25zM381.3,493h1.25v1.25h-1.25zM375.3,507.5h1.25v1.25h-1.25zM373.8,490.8h1.25v1.25h-1.25zM380.7,512h1.25v1.25h-1.25zM381.5,492.5h1.25v1.25h-1.25zM385.8,490h1.25v1.25h-1.25zM373.1,492.2h1.25v1.25h-1.25zM379.1,485.1h1.25v1.25h-1.25zM375.3,495.5h1.25v1.25h-1.25zM380.9,487.5h1.25v1.25h-1.25zM377.9,513.3h1.25v1.25h-1.25zM386.7,505.3h1.25v1.25h-1.25zM382.6,502.9h1.25v1.25h-1.25zM374.8,484.2h1.25v1.25h-1.25zM373.1,513.9h1.25v1.25h-1.25zM382.7,515.7h1.25v1.25h-1.25zM373.1,504.6h1.25v1.25h-1.25zM379.6,507.8h1.25v1.25h-1.25zM377.3,516.9h1.25v1.25h-1.25zM373.9,501.6h1.25v1.25h-1.25zM383.3,513.6h1.25v1.25h-1.25zM383.3,506.9h1.25v1.25h-1.25zM384,514.1h1.25v1.25h-1.25zM377.8,506.3h1.25v1.25h-1.25zM385.6,512.6h1.25v1.25h-1.25zM378.7,509.9h1.25v1.25h-1.25zM385,502.5h1.25v1.25h-1.25zM381.7,496h1.25v1.25h-1.25zM381.1,503.7h1.25v1.25h-1.25zM374,504.7h1.25v1.25h-1.25zM386.9,512.9h1.25v1.25h-1.25zM383.1,496.2h1.25v1.25h-1.25zM381.8,483.7h1.25v1.25h-1.25zM380,485.1h1.25v1.25h-1.25zM377.8,484.6h1.25v1.25h-1.25zM377.5,483.8h1.25v1.25h-1.25zM390.9,485h1.25v1.25h-1.25zM393.2,489.8h1.25v1.25h-1.25zM396.1,501.4h1.25v1.25h-1.25zM389.3,520.8h1.25v1.25h-1.25zM378.8,517h1.25v1.25h-1.25zM373.8,506.3h1.25v1.25h-1.25zM373.2,547.2h1.25v1.25h-1.25zM383.9,483.6h1.25v1.25h-1.25zM387.8,494.1h1.25v1.25h-1.25zM385.4,503.4h1.25v1.25h-1.25zM396.3,460.2h1.25v1.25h-1.25zM396.9,454.6h1.25v1.25h-1.25zM394.8,452.9h1.25v1.25h-1.25zM397.4,460.5h1.25v1.25h-1.25zM396.7,466.4h1.25v1.25h-1.25zM397.7,462.5h1.25v1.25h-1.25zM399.3,455.9h1.25v1.25h-1.25zM394.4,463.3h1.25v1.25h-1.25zM396.4,465.9h1.25v1.25h-1.25zM398,464.4h1.25v1.25h-1.25zM398.6,450.1h1.25v1.25h-1.25zM398.6,456.6h1.25v1.25h-1.25zM396.3,457.7h1.25v1.25h-1.25zM398.6,463.9h1.25v1.25h-1.25zM399,452h1.25v1.25h-1.25zM396.5,448.7h1.25v1.25h-1.25zM397.3,462.6h1.25v1.25h-1.25zM396.3,460.9h1.25v1.25h-1.25zM397.8,464.4h1.25v1.25h-1.25zM396.2,455.9h1.25v1.25h-1.25zM396.3,467.9h1.25v1.25h-1.25zM399.1,459.2h1.25v1.25h-1.25zM397.8,460.3h1.25v1.25h-1.25zM397.8,458.8h1.25v1.25h-1.25zM396.9,453.9h1.25v1.25h-1.25zM396.5,467.4h1.25v1.25h-1.25zM398.3,460.1h1.25v1.25h-1.25zM397.1,460.1h1.25v1.25h-1.25zM398,456.8h1.25v1.25h-1.25zM397.8,460.9h1.25v1.25h-1.25zM396.3,456.1h1.25v1.25h-1.25zM395.9,454.8h1.25v1.25h-1.25zM398.8,448.8h1.25v1.25h-1.25zM397,456.9h1.25v1.25h-1.25zM396.5,460.2h1.25v1.25h-1.25zM399.2,460.1h1.25v1.25h-1.25zM397.2,456.9h1.25v1.25h-1.25zM397.2,464h1.25v1.25h-1.25zM396.8,454.4h1.25v1.25h-1.25zM395.5,454.6h1.25v1.25h-1.25zM395.3,464.9h1.25v1.25h-1.25zM398,458.7h1.25v1.25h-1.25zM399.7,456.7h1.25v1.25h-1.25zM398.6,463.5h1.25v1.25h-1.25zM395,452.5h1.25v1.25h-1.25zM396,464h1.25v1.25h-1.25zM399.5,454h1.25v1.25h-1.25zM399.1,458h1.25v1.25h-1.25zM396.8,457.2h1.25v1.25h-1.25zM396.9,451.3h1.25v1.25h-1.25zM395.9,454h1.25v1.25h-1.25zM398.2,469.5h1.25v1.25h-1.25zM401.7,458.2h1.25v1.25h-1.25zM394.8,457.9h1.25v1.25h-1.25zM396,469h1.25v1.25h-1.25zM412.7,463.2h1.25v1.25h-1.25zM413.6,467.3h1.25v1.25h-1.25zM407.1,463.8h1.25v1.25h-1.25zM410.6,465.6h1.25v1.25h-1.25zM411.5,464.5h1.25v1.25h-1.25zM411.7,463.6h1.25v1.25h-1.25zM409,470.6h1.25v1.25h-1.25zM412.1,467h1.25v1.25h-1.25zM407.2,465h1.25v1.25h-1.25zM413.3,461.3h1.25v1.25h-1.25zM414,464.3h1.25v1.25h-1.25zM412.2,465.1h1.25v1.25h-1.25zM411.8,469.5h1.25v1.25h-1.25zM410.2,470.7h1.25v1.25h-1.25zM409.2,462.5h1.25v1.25h-1.25zM413,462.1h1.25v1.25h-1.25zM410.3,468.6h1.25v1.25h-1.25zM414.3,459.7h1.25v1.25h-1.25zM412.5,471.8h1.25v1.25h-1.25zM414.2,464.8h1.25v1.25h-1.25zM409.7,464.6h1.25v1.25h-1.25zM408.3,464.7h1.25v1.25h-1.25zM410.7,465.1h1.25v1.25h-1.25zM414.2,464.8h1.25v1.25h-1.25zM407.5,469h1.25v1.25h-1.25zM408.5,464.1h1.25v1.25h-1.25zM410.9,464.4h1.25v1.25h-1.25zM408.7,464.8h1.25v1.25h-1.25zM416.7,463.6h1.25v1.25h-1.25zM410.9,469.3h1.25v1.25h-1.25zM413.1,468.1h1.25v1.25h-1.25zM413.4,459.1h1.25v1.25h-1.25zM409,466h1.25v1.25h-1.25zM412.5,469.8h1.25v1.25h-1.25zM412.4,464.8h1.25v1.25h-1.25zM411.3,464.9h1.25v1.25h-1.25zM411.8,467.8h1.25v1.25h-1.25zM410.4,462.9h1.25v1.25h-1.25zM409.1,469.2h1.25v1.25h-1.25zM414.4,468.8h1.25v1.25h-1.25zM404.7,468.4h1.25v1.25h-1.25zM407.5,456h1.25v1.25h-1.25zM413.8,465.5h1.25v1.25h-1.25zM410.4,464.6h1.25v1.25h-1.25zM413.8,454.5h1.25v1.25h-1.25zM406.5,473.2h1.25v1.25h-1.25zM416.3,469.2h1.25v1.25h-1.25zM421.1,472.4h1.25v1.25h-1.25zM421.2,457.4h1.25v1.25h-1.25zM418.6,480.3h1.25v1.25h-1.25zM422.2,460.7h1.25v1.25h-1.25zM409,484.8h1.25v1.25h-1.25zM406.8,487.8h1.25v1.25h-1.25zM421.9,453.4h1.25v1.25h-1.25zM407.3,477h1.25v1.25h-1.25zM407.7,452h1.25v1.25h-1.25zM420.6,464.9h1.25v1.25h-1.25zM419.7,453.1h1.25v1.25h-1.25zM411,475.4h1.25v1.25h-1.25zM402.3,456.1h1.25v1.25h-1.25zM417.3,484.4h1.25v1.25h-1.25zM423.7,452.7h1.25v1.25h-1.25zM413.3,478.3h1.25v1.25h-1.25zM413.2,475.4h1.25v1.25h-1.25zM406.2,450.9h1.25v1.25h-1.25zM404.3,449.6h1.25v1.25h-1.25zM414.3,468.6h1.25v1.25h-1.25zM414.7,454h1.25v1.25h-1.25zM406.1,456.2h1.25v1.25h-1.25zM420.8,487.5h1.25v1.25h-1.25zM418.7,452.3h1.25v1.25h-1.25zM424.5,454h1.25v1.25h-1.25zM412.3,453.2h1.25v1.25h-1.25zM415.8,454.1h1.25v1.25h-1.25zM414.1,452.4h1.25v1.25h-1.25zM417,452.4h1.25v1.25h-1.25zM415.6,449.7h1.25v1.25h-1.25zM418.8,454.1h1.25v1.25h-1.25zM417.2,451h1.25v1.25h-1.25zM418,453.5h1.25v1.25h-1.25zM416.9,452.6h1.25v1.25h-1.25zM421.8,450.9h1.25v1.25h-1.25zM415.7,449.6h1.25v1.25h-1.25zM415.2,451.4h1.25v1.25h-1.25zM414.4,451.5h1.25v1.25h-1.25zM423,452.3h1.25v1.25h-1.25zM417.1,456h1.25v1.25h-1.25zM417.2,449.9h1.25v1.25h-1.25zM418.7,451.1h1.25v1.25h-1.25zM422.5,450.7h1.25v1.25h-1.25zM415.6,450.1h1.25v1.25h-1.25zM417.7,451h1.25v1.25h-1.25zM417.2,452h1.25v1.25h-1.25zM415.5,454h1.25v1.25h-1.25zM420.3,452.7h1.25v1.25h-1.25zM414.6,450.9h1.25v1.25h-1.25zM418.3,456.3h1.25v1.25h-1.25zM416,451.4h1.25v1.25h-1.25zM415.3,450.9h1.25v1.25h-1.25zM414.4,452.3h1.25v1.25h-1.25zM421.9,452.6h1.25v1.25h-1.25zM415.8,450.1h1.25v1.25h-1.25zM418.1,452.5h1.25v1.25h-1.25zM413.6,450.9h1.25v1.25h-1.25zM417.3,454.2h1.25v1.25h-1.25zM419.4,452.9h1.25v1.25h-1.25zM416.4,453.1h1.25v1.25h-1.25zM417.4,456h1.25v1.25h-1.25zM413.9,452h1.25v1.25h-1.25zM421.4,452.2h1.25v1.25h-1.25zM421.8,452.5h1.25v1.25h-1.25zM417.9,452h1.25v1.25h-1.25zM413.1,451.1h1.25v1.25h-1.25zM424.3,453.6h1.25v1.25h-1.25zM419.3,454.1h1.25v1.25h-1.25zM419.2,454.2h1.25v1.25h-1.25zM416.6,452.2h1.25v1.25h-1.25zM420.5,452h1.25v1.25h-1.25zM413.3,452.2h1.25v1.25h-1.25zM415.7,453.5h1.25v1.25h-1.25zM415.2,450.9h1.25v1.25h-1.25zM416.4,455h1.25v1.25h-1.25zM417.3,452.8h1.25v1.25h-1.25zM417.4,453h1.25v1.25h-1.25zM420.3,454.8h1.25v1.25h-1.25zM412.3,454.7h1.25v1.25h-1.25zM417.4,452.1h1.25v1.25h-1.25zM424.9,452.3h1.25v1.25h-1.25zM423.5,454.1h1.25v1.25h-1.25zM414.2,453.3h1.25v1.25h-1.25zM419.7,452.4h1.25v1.25h-1.25zM410.2,452.1h1.25v1.25h-1.25zM416.8,450.9h1.25v1.25h-1.25zM423.1,452.2h1.25v1.25h-1.25zM416.2,452.1h1.25v1.25h-1.25zM415,451.4h1.25v1.25h-1.25zM417.7,453.1h1.25v1.25h-1.25zM415.8,452.4h1.25v1.25h-1.25zM413.1,453.4h1.25v1.25h-1.25zM415.1,452.9h1.25v1.25h-1.25zM414.6,451.8h1.25v1.25h-1.25zM418.1,450.7h1.25v1.25h-1.25zM425.1,452.5h1.25v1.25h-1.25zM417.2,451.4h1.25v1.25h-1.25zM422.4,454.7h1.25v1.25h-1.25zM418.3,450.5h1.25v1.25h-1.25zM415.9,453.5h1.25v1.25h-1.25zM415.8,450.7h1.25v1.25h-1.25zM413.7,451.4h1.25v1.25h-1.25zM417.5,451.6h1.25v1.25h-1.25zM417.5,456.9h1.25v1.25h-1.25zM422.9,451h1.25v1.25h-1.25zM418.5,452.7h1.25v1.25h-1.25zM417,454.2h1.25v1.25h-1.25zM416.4,452.1h1.25v1.25h-1.25zM416.3,452.4h1.25v1.25h-1.25zM421.4,453.8h1.25v1.25h-1.25zM413.3,451.9h1.25v1.25h-1.25zM414.9,453.9h1.25v1.25h-1.25zM418.1,454h1.25v1.25h-1.25zM417.2,449.6h1.25v1.25h-1.25zM418.8,452.9h1.25v1.25h-1.25zM419,450.6h1.25v1.25h-1.25zM417.7,451.5h1.25v1.25h-1.25zM415.3,453.1h1.25v1.25h-1.25zM418.5,451.2h1.25v1.25h-1.25zM412.1,448.7h1.25v1.25h-1.25zM415.6,454.3h1.25v1.25h-1.25zM417.2,449.1h1.25v1.25h-1.25zM414.7,453.2h1.25v1.25h-1.25zM422.6,454.4h1.25v1.25h-1.25zM418.6,452.9h1.25v1.25h-1.25zM414.1,451.9h1.25v1.25h-1.25zM416.4,451.4h1.25v1.25h-1.25zM417.6,452h1.25v1.25h-1.25zM418.5,454.8h1.25v1.25h-1.25zM419.7,453.2h1.25v1.25h-1.25zM416.7,450.2h1.25v1.25h-1.25zM417.1,453.4h1.25v1.25h-1.25zM414.3,454.5h1.25v1.25h-1.25zM416.4,453.2h1.25v1.25h-1.25zM416.4,450.6h1.25v1.25h-1.25zM423.8,450.8h1.25v1.25h-1.25zM420.3,451.7h1.25v1.25h-1.25zM418.3,451.3h1.25v1.25h-1.25zM416.1,454h1.25v1.25h-1.25zM423.5,451.3h1.25v1.25h-1.25zM417.5,454.1h1.25v1.25h-1.25zM415.5,453.7h1.25v1.25h-1.25zM415,453.5h1.25v1.25h-1.25zM418.8,454.5h1.25v1.25h-1.25zM418.5,450.7h1.25v1.25h-1.25zM419.5,450.9h1.25v1.25h-1.25zM419.7,454.9h1.25v1.25h-1.25zM419.3,451.7h1.25v1.25h-1.25zM421.1,452.8h1.25v1.25h-1.25zM413.6,452h1.25v1.25h-1.25zM421.8,452.1h1.25v1.25h-1.25zM417.8,452.1h1.25v1.25h-1.25zM412.2,451.8h1.25v1.25h-1.25zM418.5,452.9h1.25v1.25h-1.25zM416.9,449.3h1.25v1.25h-1.25zM421.2,453.7h1.25v1.25h-1.25zM420.6,454.6h1.25v1.25h-1.25zM416,451.6h1.25v1.25h-1.25zM418.4,455.2h1.25v1.25h-1.25zM412.2,452.2h1.25v1.25h-1.25zM415.2,453.5h1.25v1.25h-1.25zM422,452.1h1.25v1.25h-1.25zM413.6,452.7h1.25v1.25h-1.25zM416.5,450.2h1.25v1.25h-1.25zM420.2,451.8h1.25v1.25h-1.25zM419.5,450.5h1.25v1.25h-1.25zM420.8,450.4h1.25v1.25h-1.25zM420.7,449.8h1.25v1.25h-1.25zM421.7,452h1.25v1.25h-1.25zM412.6,452.2h1.25v1.25h-1.25zM418.5,451h1.25v1.25h-1.25zM415.9,453h1.25v1.25h-1.25zM416.9,447.8h1.25v1.25h-1.25zM416.1,453.2h1.25v1.25h-1.25zM418.3,454.2h1.25v1.25h-1.25zM415.3,456.5h1.25v1.25h-1.25zM419.9,453.1h1.25v1.25h-1.25zM420.8,454.1h1.25v1.25h-1.25zM417.7,451.6h1.25v1.25h-1.25zM420.6,453.2h1.25v1.25h-1.25zM411.5,450.9h1.25v1.25h-1.25zM418.9,452.8h1.25v1.25h-1.25zM418.3,453.6h1.25v1.25h-1.25zM417.9,455h1.25v1.25h-1.25zM415.6,452h1.25v1.25h-1.25zM418.4,453.7h1.25v1.25h-1.25zM419.9,454.9h1.25v1.25h-1.25zM415.9,454.4h1.25v1.25h-1.25zM418.9,451h1.25v1.25h-1.25zM417,455.8h1.25v1.25h-1.25zM419.9,451.9h1.25v1.25h-1.25zM410,451.4h1.25v1.25h-1.25zM415.2,452.7h1.25v1.25h-1.25zM430,454.6h1.25v1.25h-1.25zM420,450h1.25v1.25h-1.25zM412.4,452h1.25v1.25h-1.25zM416,460.7h1.25v1.25h-1.25zM416.4,450.9h1.25v1.25h-1.25zM424.1,452.8h1.25v1.25h-1.25zM412.2,456.1h1.25v1.25h-1.25zM416.8,449h1.25v1.25h-1.25zM420,453.9h1.25v1.25h-1.25zM416.7,454.5h1.25v1.25h-1.25zM422.5,450.2h1.25v1.25h-1.25zM408,446.1h1.25v1.25h-1.25zM417.7,455.9h1.25v1.25h-1.25zM423.4,456.4h1.25v1.25h-1.25zM427.7,452.6h1.25v1.25h-1.25zM423.7,448.4h1.25v1.25h-1.25zM421.9,453.7h1.25v1.25h-1.25zM417.9,451.4h1.25v1.25h-1.25zM412.8,453h1.25v1.25h-1.25zM424.8,451.6h1.25v1.25h-1.25zM421.1,450.8h1.25v1.25h-1.25zM419.7,449.9h1.25v1.25h-1.25zM420.3,452h1.25v1.25h-1.25zM420,450.9h1.25v1.25h-1.25zM412.5,451.7h1.25v1.25h-1.25zM423.6,456.9h1.25v1.25h-1.25zM416.8,454.8h1.25v1.25h-1.25zM422.2,453.7h1.25v1.25h-1.25zM410.6,453.5h1.25v1.25h-1.25zM413.5,455.8h1.25v1.25h-1.25zM401.9,485.5h1.25v1.25h-1.25zM402.3,487.9h1.25v1.25h-1.25zM402.1,490.2h1.25v1.25h-1.25zM412.6,494.7h1.25v1.25h-1.25zM411.8,497.6h1.25v1.25h-1.25zM416.4,478.2h1.25v1.25h-1.25zM417.4,485.9h1.25v1.25h-1.25zM420.3,474.3h1.25v1.25h-1.25zM406.4,453h1.25v1.25h-1.25zM405.2,458.8h1.25v1.25h-1.25zM407.7,451h1.25v1.25h-1.25zM422.9,506.1h1.25v1.25h-1.25zM420.3,506.1h1.25v1.25h-1.25zM422.8,505h1.25v1.25h-1.25zM423,505.8h1.25v1.25h-1.25zM422.1,505.3h1.25v1.25h-1.25zM421.5,505.5h1.25v1.25h-1.25zM424.7,505.8h1.25v1.25h-1.25zM422.4,505.3h1.25v1.25h-1.25zM421.8,505.4h1.25v1.25h-1.25zM421.6,506.2h1.25v1.25h-1.25zM422.1,506.2h1.25v1.25h-1.25zM421.4,506.3h1.25v1.25h-1.25zM422.2,452.7h1.25v1.25h-1.25zM422.1,450.4h1.25v1.25h-1.25zM424.6,451.1h1.25v1.25h-1.25zM422,450.4h1.25v1.25h-1.25zM422.7,451.2h1.25v1.25h-1.25zM422.8,452.2h1.25v1.25h-1.25zM421,449.7h1.25v1.25h-1.25zM423.1,453h1.25v1.25h-1.25zM423.6,450.1h1.25v1.25h-1.25zM423.4,452.3h1.25v1.25h-1.25zM422.8,452.3h1.25v1.25h-1.25zM421.7,452h1.25v1.25h-1.25zM424.1,451h1.25v1.25h-1.25zM419.5,451.6h1.25v1.25h-1.25zM422.7,449.1h1.25v1.25h-1.25zM421,452.6h1.25v1.25h-1.25zM422,451.8h1.25v1.25h-1.25zM419.9,453h1.25v1.25h-1.25zM425.7,451.4h1.25v1.25h-1.25zM420.9,450h1.25v1.25h-1.25zM424,451.9h1.25v1.25h-1.25zM420.8,453.5h1.25v1.25h-1.25zM423.8,452.6h1.25v1.25h-1.25zM418.9,451.6h1.25v1.25h-1.25zM423.5,449.9h1.25v1.25h-1.25zM424.1,453.8h1.25v1.25h-1.25zM424.3,450.7h1.25v1.25h-1.25zM420.9,453.1h1.25v1.25h-1.25zM424.2,453.5h1.25v1.25h-1.25zM424.6,451.6h1.25v1.25h-1.25zM421.5,449h1.25v1.25h-1.25zM423.8,455h1.25v1.25h-1.25zM421.4,451h1.25v1.25h-1.25zM423.5,452.3h1.25v1.25h-1.25zM419.6,450.7h1.25v1.25h-1.25zM420.2,454.6h1.25v1.25h-1.25zM420.9,452.9h1.25v1.25h-1.25zM426,454.4h1.25v1.25h-1.25zM425,454.1h1.25v1.25h-1.25zM419.9,451.2h1.25v1.25h-1.25zM420.9,451.3h1.25v1.25h-1.25zM427.3,449.3h1.25v1.25h-1.25zM423.4,449.9h1.25v1.25h-1.25zM424.9,453.6h1.25v1.25h-1.25zM421.3,454.7h1.25v1.25h-1.25zM422.4,453.6h1.25v1.25h-1.25zM422.9,450.9h1.25v1.25h-1.25zM421.6,451.5h1.25v1.25h-1.25zM423.5,451.9h1.25v1.25h-1.25zM426.8,451.4h1.25v1.25h-1.25zM421.4,450.7h1.25v1.25h-1.25zM420.8,449.6h1.25v1.25h-1.25zM420.4,453h1.25v1.25h-1.25zM422.4,451.5h1.25v1.25h-1.25zM423,453.3h1.25v1.25h-1.25zM423.5,452.8h1.25v1.25h-1.25zM421.2,451.3h1.25v1.25h-1.25zM420.8,451.6h1.25v1.25h-1.25zM420.7,451.2h1.25v1.25h-1.25zM421.9,451.4h1.25v1.25h-1.25zM426.6,450h1.25v1.25h-1.25zM428.7,453.6h1.25v1.25h-1.25zM425.2,452.1h1.25v1.25h-1.25zM426.3,454.4h1.25v1.25h-1.25zM427.3,454.9h1.25v1.25h-1.25zM425.3,456.8h1.25v1.25h-1.25zM427.9,455.7h1.25v1.25h-1.25zM424.8,452.3h1.25v1.25h-1.25zM425.9,456.1h1.25v1.25h-1.25zM425.6,453h1.25v1.25h-1.25zM424.9,456.1h1.25v1.25h-1.25zM424.1,449.3h1.25v1.25h-1.25zM422.3,474.7h1.25v1.25h-1.25zM422.3,468.2h1.25v1.25h-1.25zM422.4,461.8h1.25v1.25h-1.25zM421.8,456.8h1.25v1.25h-1.25zM419.9,464.9h1.25v1.25h-1.25zM421.4,463.8h1.25v1.25h-1.25zM419.6,470.3h1.25v1.25h-1.25zM421.5,460.4h1.25v1.25h-1.25zM420.6,463.8h1.25v1.25h-1.25zM420.3,456.7h1.25v1.25h-1.25zM423.1,476.2h1.25v1.25h-1.25zM422.1,474h1.25v1.25h-1.25zM421.1,472.7h1.25v1.25h-1.25zM420.3,471.4h1.25v1.25h-1.25zM421.7,474.8h1.25v1.25h-1.25zM419.8,472.4h1.25v1.25h-1.25zM419.9,466.9h1.25v1.25h-1.25zM423.2,455.3h1.25v1.25h-1.25zM420.4,461.7h1.25v1.25h-1.25zM420.7,456.6h1.25v1.25h-1.25zM423,472.9h1.25v1.25h-1.25zM421,463h1.25v1.25h-1.25zM421.7,478.6h1.25v1.25h-1.25zM420,496.4h1.25v1.25h-1.25zM420.8,488.1h1.25v1.25h-1.25zM422.7,498.1h1.25v1.25h-1.25zM421.3,482h1.25v1.25h-1.25zM420.8,496.9h1.25v1.25h-1.25zM422.6,481.8h1.25v1.25h-1.25zM422.4,485.1h1.25v1.25h-1.25zM422.4,505.8h1.25v1.25h-1.25zM424.8,504.3h1.25v1.25h-1.25zM423.3,506.6h1.25v1.25h-1.25zM423.5,507h1.25v1.25h-1.25zM423.3,505.8h1.25v1.25h-1.25zM422.8,505.2h1.25v1.25h-1.25zM424.2,505h1.25v1.25h-1.25zM422.8,505.4h1.25v1.25h-1.25zM422.3,504.3h1.25v1.25h-1.25zM422.6,505.8h1.25v1.25h-1.25zM423,506.3h1.25v1.25h-1.25zM422.8,505.3h1.25v1.25h-1.25zM423.2,506.2h1.25v1.25h-1.25zM422.2,504.8h1.25v1.25h-1.25zM426.6,505.7h1.25v1.25h-1.25zM428.2,522.3h1.25v1.25h-1.25zM429.8,521.8h1.25v1.25h-1.25zM431.4,521.5h1.25v1.25h-1.25zM435.1,450.4h1.25v1.25h-1.25zM435.4,456h1.25v1.25h-1.25zM444.7,449.6h1.25v1.25h-1.25zM449.1,448.5h1.25v1.25h-1.25zM450.7,449.6h1.25v1.25h-1.25zM452.3,450.1h1.25v1.25h-1.25zM453.2,450.8h1.25v1.25h-1.25zM454.2,451.4h1.25v1.25h-1.25zM455.2,452h1.25v1.25h-1.25zM456,452.5h1.25v1.25h-1.25zM451.5,454.4h1.25v1.25h-1.25zM453.9,460.9h1.25v1.25h-1.25zM455.5,460.1h1.25v1.25h-1.25zM457.9,458.8h1.25v1.25h-1.25zM460.3,462h1.25v1.25h-1.25zM463,462.9h1.25v1.25h-1.25zM465.1,458.1h1.25v1.25h-1.25zM448.3,460.9h1.25v1.25h-1.25zM449.9,461.3h1.25v1.25h-1.25zM447.5,463.3h1.25v1.25h-1.25zM451.5,464.5h1.25v1.25h-1.25zM454.3,464.9h1.25v1.25h-1.25zM445.1,471.6h1.25v1.25h-1.25zM450.7,468.9h1.25v1.25h-1.25zM455,474.5h1.25v1.25h-1.25zM458.7,472.1h1.25v1.25h-1.25zM459.5,472.9h1.25v1.25h-1.25zM465.1,468.9h1.25v1.25h-1.25zM465.1,472.6h1.25v1.25h-1.25zM466.2,472.9h1.25v1.25h-1.25zM467.5,473.7h1.25v1.25h-1.25zM469.1,474.5h1.25v1.25h-1.25zM470.4,475.8h1.25v1.25h-1.25zM467.5,478h1.25v1.25h-1.25zM438.3,476.9h1.25v1.25h-1.25zM439.4,480.1h1.25v1.25h-1.25zM440.2,479.3h1.25v1.25h-1.25zM441.8,480.9h1.25v1.25h-1.25zM443.4,481.2h1.25v1.25h-1.25zM445.1,482h1.25v1.25h-1.25zM440.7,480.6h1.25v1.25h-1.25zM451.5,486h1.25v1.25h-1.25zM456,487.3h1.25v1.25h-1.25zM466.2,486h1.25v1.25h-1.25zM469.4,463.3h1.25v1.25h-1.25zM470.7,463.6h1.25v1.25h-1.25zM472,463.3h1.25v1.25h-1.25zM473.1,462.9h1.25v1.25h-1.25zM474.2,463.6h1.25v1.25h-1.25zM472.3,462h1.25v1.25h-1.25zM474.7,462h1.25v1.25h-1.25zM471.3,464.1h1.25v1.25h-1.25zM474.4,454.4h1.25v1.25h-1.25zM477.9,454.9h1.25v1.25h-1.25zM484.3,453.3h1.25v1.25h-1.25zM488.3,455.2h1.25v1.25h-1.25zM498,458.4h1.25v1.25h-1.25zM475.5,466.5h1.25v1.25h-1.25zM481.1,467.7h1.25v1.25h-1.25zM482.7,464.9h1.25v1.25h-1.25zM481.9,472.9h1.25v1.25h-1.25zM488,472.4h1.25v1.25h-1.25zM492.3,473.7h1.25v1.25h-1.25zM492.8,464.9h1.25v1.25h-1.25zM483.6,453.1h1.25v1.25h-1.25zM488.3,455.3h1.25v1.25h-1.25zM498.5,458.3h1.25v1.25h-1.25zM504.4,465.4h1.25v1.25h-1.25zM506.2,458.3h1.25v1.25h-1.25zM509.8,456h1.25v1.25h-1.25zM511.4,454.3h1.25v1.25h-1.25zM513.1,453.1h1.25v1.25h-1.25zM514.3,454.8h1.25v1.25h-1.25zM515.7,456.7h1.25v1.25h-1.25zM512.4,455.3h1.25v1.25h-1.25zM513.8,453.6h1.25v1.25h-1.25zM518.5,457.1h1.25v1.25h-1.25zM521.6,457.1h1.25v1.25h-1.25zM519.7,459.5h1.25v1.25h-1.25zM520.9,463.5h1.25v1.25h-1.25zM525.6,465.4h1.25v1.25h-1.25zM526.8,469.7h1.25v1.25h-1.25zM510.3,469.7h1.25v1.25h-1.25zM512.1,468.5h1.25v1.25h-1.25zM513.8,468h1.25v1.25h-1.25zM515.2,467.5h1.25v1.25h-1.25zM516.9,468.2h1.25v1.25h-1.25zM518.5,468.7h1.25v1.25h-1.25zM520.9,469.4h1.25v1.25h-1.25zM513.1,468.9h1.25v1.25h-1.25zM515.9,468.7h1.25v1.25h-1.25zM483.1,464.2h1.25v1.25h-1.25zM481.2,467.8h1.25v1.25h-1.25zM493,464.7h1.25v1.25h-1.25zM488.3,471.8h1.25v1.25h-1.25zM481.9,473.7h1.25v1.25h-1.25zM492.6,474.1h1.25v1.25h-1.25zM530.3,480.3h1.25v1.25h-1.25zM536.2,470.8h1.25v1.25h-1.25zM538.8,471.5h1.25v1.25h-1.25zM541.6,471.8h1.25v1.25h-1.25zM578.2,489.7h1.25v1.25h-1.25z" fill="#0c0c0c"/>
<path d="M362.8,467.1 L365.9,508.8" stroke="#0c0c0c" stroke-width="1.25" fill="none"/>
<path d="M365.9,509.8 L366.8,518.5" stroke="#0c0c0c" stroke-width="1.1" stroke-dasharray="2 1.6" fill="none"/>
<path d="M368.6,535.6 L372.1,543.4" stroke="#0c0c0c" stroke-width="1.3" stroke-dasharray="2.6 1.3" fill="none"/>
<path d="M395.1,457.8 L396.9,451.6" stroke="#0c0c0c" stroke-width="1.1" stroke-dasharray="1.6 1.4" fill="none"/>
<path d="M396.3,466.8 L398.4,459" stroke="#0c0c0c" stroke-width="1.1" stroke-dasharray="1.6 1.4" fill="none"/>
<path d="M398.8,467.5 L400.8,461.3" stroke="#0c0c0c" stroke-width="1.1" stroke-dasharray="1.6 1.4" fill="none"/>
<path d="M419,510.8 L422.5,519.9" stroke="#0c0c0c" stroke-width="1.3" stroke-dasharray="2.4 1.3" fill="none"/>
<path class="ax" d="M359.3,422.6 L359.3,554 M359.3,422.8 h-8 M359.3,454.1 h-8 M359.3,485.4 h-8 M359.3,516.8 h-8 M359.3,548.1 h-8 M359.3,554 h-8 M359.3,541.8 h-5 M359.3,535.5 h-5 M359.3,529.3 h-5 M359.3,523 h-5 M359.3,510.5 h-5 M359.3,504.2 h-5 M359.3,498 h-5 M359.3,491.7 h-5 M359.3,479.2 h-5 M359.3,472.9 h-5 M359.3,466.6 h-5 M359.3,460.4 h-5 M359.3,447.8 h-5 M359.3,441.6 h-5 M359.3,435.3 h-5 M359.3,429 h-5"/>
<path class="ax" d="M358.8,554 L596.8,554 M359.4,554 v7.3 M406.8,554 v7.3 M454.1,554 v7.3 M501.5,554 v7.3 M548.9,554 v7.3 M596.2,554 v7.3 M383.1,554 v4.3 M430.5,554 v4.3 M477.8,554 v4.3 M525.2,554 v4.3 M572.6,554 v4.3"/>
<text x="350.3" y="427" class="tk" text-anchor="end">50</text>
<text x="350.3" y="458.3" class="tk" text-anchor="end">0</text>
<text x="350.3" y="489.6" class="tk" text-anchor="end">-50</text>
<text x="350.3" y="521" class="tk" text-anchor="end">-100</text>
<text x="350.3" y="552.3" class="tk" text-anchor="end">-150</text>
<text x="359.4" y="573" class="tk" text-anchor="middle">0</text>
<text x="406.8" y="573" class="tk" text-anchor="middle">100</text>
<text x="454.1" y="573" class="tk" text-anchor="middle">200</text>
<text x="501.5" y="573" class="tk" text-anchor="middle">300</text>
<text x="548.9" y="573" class="tk" text-anchor="middle">400</text>
<text x="596.2" y="573" class="tk" text-anchor="middle">500</text>
<text class="bl" text-anchor="middle" transform="translate(320.6,481) rotate(-90)">Paleo ESL (m)</text>
<text x="477.5" y="588.9" class="bl" text-anchor="middle">Time (ky)</text>
<text x="379.5" y="431.7" text-anchor="middle" style="font-size:9.95px;font-weight:bold;fill:#0a0a0a">MIS 3</text>
<path d="M378.3,434 V477" stroke="#222" stroke-width="0.9"/>
<text x="412.3" y="420.3" text-anchor="middle" style="font-size:9.95px;font-weight:bold;fill:#0a0a0a">MIS 5</text>
<path d="M411.7,422.6 V446.2" stroke="#222" stroke-width="0.9"/>
<text x="457.3" y="421.3" text-anchor="middle" style="font-size:9.95px;font-weight:bold;fill:#0a0a0a">MIS 7</text>
<path d="M456.3,424.3 V448.4" stroke="#222" stroke-width="0.9"/>
<text x="514" y="424.8" text-anchor="middle" style="font-size:9.95px;font-weight:bold;fill:#0a0a0a">MIS 9</text>
<path d="M513.7,428 V450.7" stroke="#222" stroke-width="0.9"/>
<text x="558.3" y="426.6" text-anchor="middle" style="font-size:9.95px;font-weight:bold;fill:#0a0a0a">MIS 11</text>
<path d="M555,429.6 V452" stroke="#222" stroke-width="0.9"/>
</g>
<g id="panel-d">
<text x="8.2" y="439.9" class="pl">d</text>
<path d="M41.8,462.2 V553.9 H263 M41.8,553.9 h-3.2 M41.8,531 h-3.2 M41.8,508.1 h-3.2 M41.8,485.1 h-3.2 M41.8,462.2 h-3.2 M41.8,549.3 h-1.8 M41.8,544.7 h-1.8 M41.8,540.1 h-1.8 M41.8,535.6 h-1.8 M41.8,526.4 h-1.8 M41.8,521.8 h-1.8 M41.8,517.2 h-1.8 M41.8,512.6 h-1.8 M41.8,503.5 h-1.8 M41.8,498.9 h-1.8 M41.8,494.3 h-1.8 M41.8,489.7 h-1.8 M41.8,480.6 h-1.8 M41.8,476 h-1.8 M41.8,471.4 h-1.8 M41.8,466.8 h-1.8" fill="none" stroke="#222" stroke-width="0.9"/>
<text x="36.6" y="557" class="d" text-anchor="end" style="font-size:9.3px">0</text>
<text x="36.6" y="534.1" class="d" text-anchor="end" style="font-size:9.3px">1</text>
<text x="36.6" y="511.2" class="d" text-anchor="end" style="font-size:9.3px">2</text>
<text x="36.6" y="488.2" class="d" text-anchor="end" style="font-size:9.3px">3</text>
<text x="36.6" y="465.3" class="d" text-anchor="end" style="font-size:9.3px">4</text>
<rect x="59.3" y="522" width="14.1" height="13.6" fill="#1c1c1c"/>
<rect x="105.2" y="507.3" width="14" height="21" fill="#1c1c1c"/>
<rect x="151" y="543.2" width="13.5" height="4.8" fill="#1c1c1c"/>
<rect x="196.6" y="476.5" width="13.8" height="24.8" fill="#1c1c1c"/>
<rect x="242.8" y="471.7" width="13.5" height="18" fill="#1c1c1c"/>
<text x="69.8" y="507.5" class="d" text-anchor="middle">Thermosteric</text>
<text x="69.8" y="518" class="d" text-anchor="middle">Changes</text>
<text x="112.4" y="492.4" class="d" text-anchor="middle">Glacio</text>
<text x="112.4" y="502.7" class="d" text-anchor="middle">eustasy</text>
<text x="159.3" y="529.1" class="d" text-anchor="middle">Land water</text>
<text x="159.3" y="538.8" class="d" text-anchor="middle">storage</text>
<text x="203.6" y="462.2" class="d" text-anchor="middle">Total</text>
<text x="203.3" y="472.5" class="d" text-anchor="middle">contributions</text>
<text x="249.5" y="502.2" class="d" text-anchor="middle">Observed</text>
<text x="249.5" y="512.1" class="d" text-anchor="middle">ESL rise</text>
<text text-anchor="middle" transform="translate(14.6,510) rotate(-90)" style="font-size:8.9px;font-weight:bold;fill:#111">Observed contributions to</text>
<text text-anchor="middle" transform="translate(24.1,510) rotate(-90)" style="font-size:8.9px;font-weight:bold;fill:#111">ESL rise 1993-2010 (mm/yr)</text>
</g>
</svg>
</body></html>
